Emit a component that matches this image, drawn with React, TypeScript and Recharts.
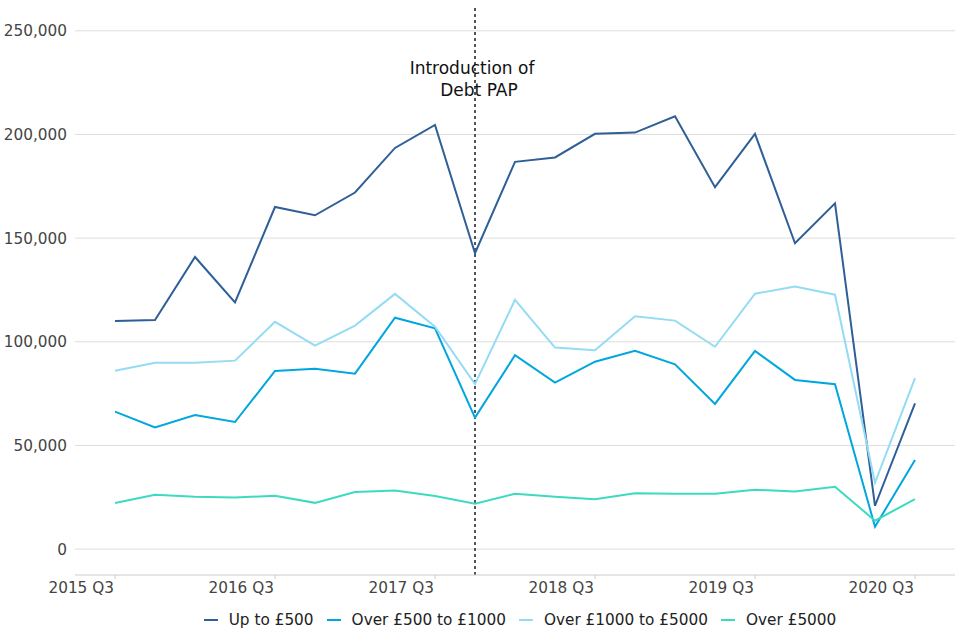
import { CartesianGrid, Legend, Line, LineChart, ReferenceLine, XAxis, YAxis } from 'recharts';

const quarters = [
  '2015 Q3', '2015 Q4', '2016 Q1', '2016 Q2', '2016 Q3', '2016 Q4', '2017 Q1', '2017 Q2',
  '2017 Q3', '2017 Q4', '2018 Q1', '2018 Q2', '2018 Q3', '2018 Q4', '2019 Q1', '2019 Q2',
  '2019 Q3', '2019 Q4', '2020 Q1', '2020 Q2', '2020 Q3',
];

const upTo500 = [
  110000, 110500, 140900, 119000, 165000, 161000, 172000, 193500, 204600, 142700, 186800,
  188900, 200300, 200900, 208800, 174600, 200300, 147500, 166800, 20900, 70300,
];
const over500to1000 = [
  66300, 58700, 64700, 61300, 85900, 87000, 84600, 111600, 106500, 63400, 93500,
  80300, 90400, 95600, 89100, 70000, 95600, 81600, 79500, 10800, 43000,
];
const over1000to5000 = [
  86000, 89900, 89900, 90900, 109600, 98100, 107800, 123100, 107300, 79600, 120200,
  97200, 95900, 112300, 110200, 97600, 123200, 126600, 122700, 32000, 82500,
];
const over5000 = [
  22200, 26200, 25200, 24900, 25700, 22300, 27500, 28200, 25600, 21900, 26700,
  25200, 24000, 26900, 26700, 26700, 28600, 27800, 30100, 13700, 24100,
];

const xTickLabels = ['2015 Q3', '2016 Q3', '2017 Q3', '2018 Q3', '2019 Q3', '2020 Q3'];
const yTicks = [0, 50000, 100000, 150000, 200000, 250000];
const eventQuarter = '2017 Q4';

const series = [
  { key: 'upTo500', name: 'Up to £500', color: '#2f5f97' },
  { key: 'over500to1000', name: 'Over £500 to £1000', color: '#00a6de' },
  { key: 'over1000to5000', name: 'Over £1000 to £5000', color: '#94dcf3' },
  { key: 'over5000', name: 'Over £5000', color: '#3cdbc0' },
];

const data = quarters.map((quarter, idx) => ({
  idx,
  quarter,
  upTo500: upTo500[idx],
  over500to1000: over500to1000[idx],
  over1000to5000: over1000to5000[idx],
  over5000: over5000[idx],
}));

const FONT = '"DejaVu Sans", sans-serif';

function LegendContent({ payload }: any) {
  const items = [...(payload || [])].sort(
    (a: any, b: any) =>
      series.findIndex((s) => s.name === a.value) - series.findIndex((s) => s.name === b.value),
  );
  return (
    <div
      style={{
        display: 'flex',
        justifyContent: 'center',
        alignItems: 'center',
        height: 26,
        paddingLeft: 98,
        fontFamily: FONT,
        fontSize: 15.3,
        color: '#222',
      }}
    >
      {items.map((entry: any) => (
        <span key={entry.value} style={{ display: 'flex', alignItems: 'center', marginRight: 13 }}>
          <span style={{ width: 14, height: 2.5, background: entry.color, marginRight: 11 }} />
          {entry.value}
        </span>
      ))}
    </div>
  );
}

function EventLabel({ viewBox }: any) {
  const x = viewBox.x;
  const y = viewBox.y;
  return (
    <text fontFamily={FONT} fontSize={17} fill="#111">
      <tspan x={x - 3} y={y + 66} textAnchor="middle">Introduction of</tspan>
      <tspan x={x + 4} y={y + 88} textAnchor="middle">Debt PAP</tspan>
    </text>
  );
}

export default function App() {
  const tickIdx = xTickLabels.map((q) => quarters.indexOf(q));
  return (
    <div style={{ position: 'absolute', left: 0, top: 0, fontFamily: FONT }}>
      <LineChart width={960} height={640} data={data} margin={{ top: 8, right: 5, bottom: 7, left: 0 }}>
        <CartesianGrid vertical={false} stroke="#dddddd" horizontalValues={yTicks} />
        <XAxis
          dataKey="idx"
          type="number"
          domain={[-1, 21]}
          ticks={tickIdx}
          tickFormatter={(v: number) => quarters[v]}
          height={32}
          stroke="#cccccc"
          tickSize={4}
          tickMargin={3}
          tick={{ textAnchor: 'end', fill: '#444', fontSize: 15.3, fontFamily: FONT, dx: -1 }}
        />
        <YAxis
          type="number"
          domain={[-12500, 261000]}
          allowDataOverflow
          ticks={yTicks}
          tickFormatter={(v: number) => v.toLocaleString('en-US')}
          width={75}
          axisLine={false}
          tickLine={false}
          tick={{ fill: '#444', fontSize: 15.3, fontFamily: FONT }}
        />
        <ReferenceLine
          x={quarters.indexOf(eventQuarter)}
          stroke="#555"
          strokeWidth={2}
          strokeDasharray="3 3"
          label={<EventLabel />}
        />
        {series.map((s) => (
          <Line
            key={s.key}
            type="linear"
            dataKey={s.key}
            name={s.name}
            stroke={s.color}
            strokeWidth={2}
            dot={false}
            activeDot={false}
            isAnimationActive={false}
          />
        ))}
        <Legend verticalAlign="bottom" wrapperStyle={{ height: 26 }} content={<LegendContent />} />
      </LineChart>
    </div>
  );
}
